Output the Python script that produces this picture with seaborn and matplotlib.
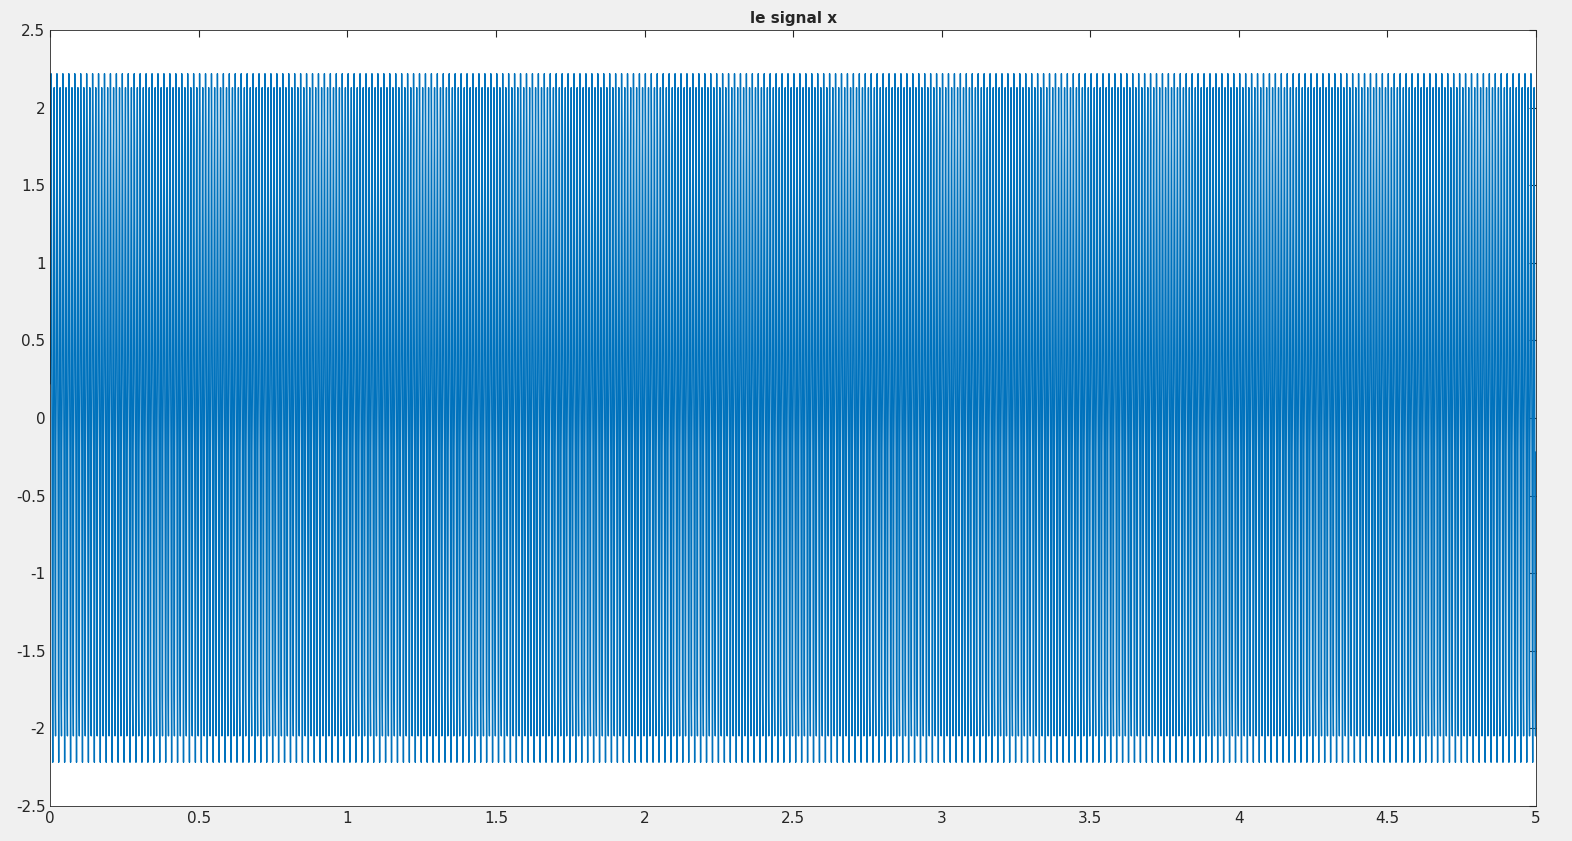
import numpy as np
import matplotlib
matplotlib.use("Agg")
import matplotlib.pyplot as plt
import seaborn as sns

period_values = [0.22, 1.23, 2.22, 1.79, 0.55, -0.22, -1.64, -2.22, -1.23,
                 0.55, 1.64, 2.13, 1.23, -0.55, -1.79, -2.05, -0.22]
n_periods = 250
t_end = 5.0
title = "le signal x"

x_vals = np.tile(period_values, n_periods)
t = np.linspace(0, t_end, len(x_vals))

sns.set_style("white")
plt.rcParams['font.family'] = ['DejaVu Sans']
fig = plt.figure(figsize=(15.72, 8.41), dpi=100, facecolor="#f0f0f0")
ax = fig.add_axes([0.032, 0.042, 0.945, 0.922])
sns.lineplot(x=t, y=x_vals, ax=ax, color="#0072BD", linewidth=1.0, estimator=None, sort=False)
ax.set_xlim(0, 5)
ax.set_ylim(-2.5, 2.5)
ax.set_xticks(np.arange(0, 5.01, 0.5))
ax.set_xticklabels(["0", "0.5", "1", "1.5", "2", "2.5", "3", "3.5", "4", "4.5", "5"])
ax.set_yticks(np.arange(-2.5, 2.51, 0.5))
ax.set_yticklabels(["-2.5", "-2", "-1.5", "-1", "-0.5", "0", "0.5", "1", "1.5", "2", "2.5"])
ax.tick_params(direction="in", length=5, labelsize=11, top=True, right=True, colors="#262626")
for s in ax.spines.values():
    s.set_color("#262626"); s.set_linewidth(0.6)
ax.set_title(title, fontsize=11, fontweight="bold", pad=5)
fig.savefig("out.png", dpi=100, facecolor=fig.get_facecolor())
